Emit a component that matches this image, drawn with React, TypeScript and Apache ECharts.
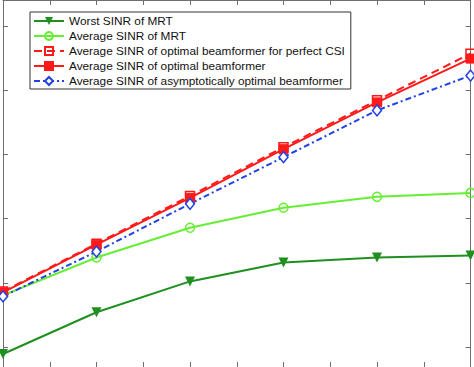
import React, { useEffect, useRef } from "react";
import * as echarts from "echarts";

const xValues = [10, 20, 30, 40, 50, 60];
const xTicks = [10, 15, 20, 25, 30, 35, 40, 45, 50, 55, 60];
const yTicks = [0, 5, 10, 15, 20, 25];

const worstMRT = [-0.54, 2.71, 5.11, 6.58, 6.97, 7.12];
const avgMRT = [4.02, 6.97, 9.29, 10.84, 11.69, 12.0];
const optPerfectCSI = [4.33, 8.05, 11.76, 15.56, 19.2, 22.83];
const optBeamformer = [4.26, 7.97, 11.61, 15.4, 19.04, 22.45];
const asymOptimal = [3.95, 7.43, 11.15, 14.78, 18.42, 21.13];

const seriesNames = [
  "Worst SINR of MRT",
  "Average SINR of MRT",
  "Average SINR of optimal beamformer for perfect CSI",
  "Average SINR of optimal beamformer",
  "Average SINR of asymptotically optimal beamformer",
];

const pair = (ys: number[]) => xValues.map((x, i) => [x, ys[i]]);

export default function App() {
  const ref = useRef<HTMLDivElement>(null);
  useEffect(() => {
    if (!ref.current) return;
    const chart = echarts.init(ref.current, null, { renderer: "svg" });
    const axisColor = "#6e6e6e";
    const yAxisBase = {
      type: "value",
      min: -1.55,
      max: 27.01,
      axisLine: { show: true, lineStyle: { color: axisColor, width: 1 } },
      axisTick: {
        show: true,
        inside: true,
        length: 5,
        customValues: yTicks,
        lineStyle: { color: axisColor },
      },
      axisLabel: { show: false },
      splitLine: { show: false },
    };
    const xAxisBase = {
      type: "value",
      min: 10,
      max: 60,
      axisLine: { show: true, onZero: false, lineStyle: { color: axisColor, width: 1 } },
      axisTick: {
        show: true,
        inside: true,
        length: 5,
        customValues: xTicks,
        lineStyle: { color: axisColor },
      },
      axisLabel: { show: false },
      splitLine: { show: false },
    };
    const lw = 2;
    chart.setOption({
      animation: false,
      backgroundColor: "#ffffff",
      grid: { left: 3, right: 3.5, top: -1, bottom: -1, containLabel: false },
      xAxis: [
        { ...xAxisBase, position: "bottom" },
        { ...xAxisBase, position: "top" },
      ],
      yAxis: [
        { ...yAxisBase, position: "left" },
        { ...yAxisBase, position: "right" },
      ],
      legend: {
        orient: "vertical",
        left: 30,
        top: 12,
        itemWidth: 30,
        itemHeight: 10,
        itemGap: 1,
        padding: [2, 6, 1, 3],
        borderColor: "#333333",
        borderWidth: 1,
        backgroundColor: "#ffffff",
        textStyle: { fontFamily: "Liberation Sans", fontSize: 11.8, color: "#111111", lineHeight: 14 },
        data: seriesNames,
      },
      series: [
        {
          name: seriesNames[0],
          type: "line",
          data: pair(worstMRT),
          symbol: "triangle",
          symbolRotate: 180,
          symbolSize: 10,
          lineStyle: { color: "#1f8f1f", width: lw },
          itemStyle: { color: "#1f8f1f" },
        },
        {
          name: seriesNames[1],
          type: "line",
          data: pair(avgMRT),
          symbol: "circle",
          symbolSize: 9,
          lineStyle: { color: "#66ee33", width: lw },
          itemStyle: { color: "rgba(255,255,255,0)", borderColor: "#66ee33", borderWidth: 1.5 },
        },
        {
          name: seriesNames[2],
          type: "line",
          data: pair(optPerfectCSI),
          symbol: "rect",
          symbolSize: 9,
          lineStyle: { color: "#ff1a1a", width: lw, type: [8, 5] },
          itemStyle: { color: "rgba(255,255,255,0)", borderColor: "#ff1a1a", borderWidth: 1.5 },
        },
        {
          name: seriesNames[3],
          type: "line",
          data: pair(optBeamformer),
          symbol: "rect",
          symbolSize: 9,
          lineStyle: { color: "#ff1a1a", width: lw },
          itemStyle: { color: "#ff1a1a", borderColor: "#ff1a1a", borderWidth: 1 },
        },
        {
          name: seriesNames[4],
          type: "line",
          data: pair(asymOptimal),
          symbol: "diamond",
          symbolSize: [9, 11],
          lineStyle: { color: "#2240e6", width: lw, type: [6, 3, 2, 3] },
          itemStyle: { color: "#ffffff", borderColor: "#2240e6", borderWidth: 1.5 },
        },
      ],
    });
    return () => chart.dispose();
  }, []);
  return (
    <div
      ref={ref}
      style={{ position: "fixed", left: 0, top: 0, width: 474, height: 367 }}
    />
  );
}
